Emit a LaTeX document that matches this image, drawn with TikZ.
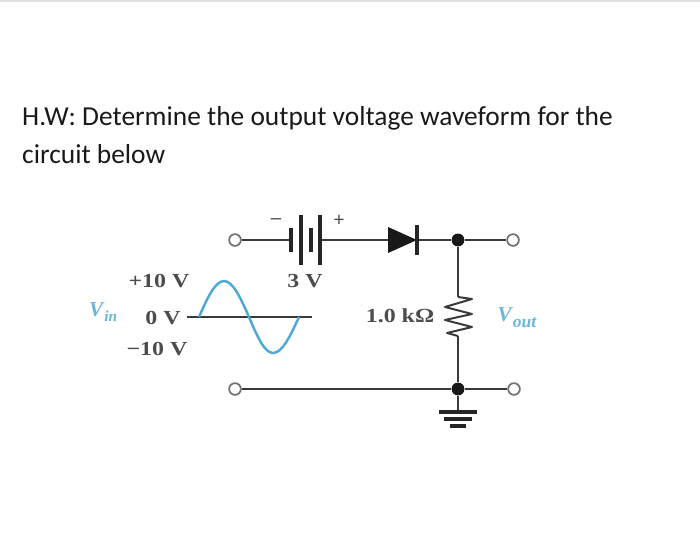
\documentclass[tikz,border=0pt]{standalone}
\usepackage{fontspec}
\setmainfont{Liberation Serif}
\newfontfamily\headfont{Carlito}
\newfontfamily\valfont[FakeStretch=1.2]{Liberation Serif}
\usetikzlibrary{positioning}
\definecolor{wavecol}{HTML}{4FA9D6}
\definecolor{wirecol}{HTML}{3A3A3A}
\tikzstyle{wire} = [draw=wirecol, line width=1.3pt]
\tikzstyle{plate} = [draw=black!85, line width=2.8pt]
\tikzstyle{terminal} = [circle, draw=black!55, fill=white, line width=1.5pt, minimum size=10pt, inner sep=0pt]
\tikzstyle{dot} = [circle, fill=black!90, minimum size=11pt, inner sep=0pt]
\tikzstyle{val} = [text=black!70, font=\valfont\fontsize{17}{19}\selectfont\bfseries, inner sep=0pt]
\tikzstyle{sig} = [text=wavecol!85, font=\fontsize{18}{20}\selectfont\bfseries\itshape, inner sep=0pt]
\tikzstyle{headline} = [anchor=base west, inner sep=0pt, text=black!90, font=\headfont\fontsize{23.4}{26}\selectfont]

\begin{document}
\begin{tikzpicture}[x=0.03cm,y=-0.03cm]
  \useasboundingbox (0,0) rectangle (700,557);
  \fill[black!12] (0,0) rectangle (700,2);

  \node[headline] (line1) at (22,125) {H.W: Determine the output voltage waveform for the};
  \node[headline] (line2) at (22,163) {circuit below};

  \node[terminal] (inA) at (235,240) {};
  \node[terminal] (inB) at (235,389) {};
  \node[terminal] (outA) at (513,240) {};
  \node[terminal] (outB) at (514,389) {};
  \node[dot] (top) at (458,240) {};
  \node[dot] (bot) at (458,389) {};

  \coordinate (batL) at (291,240);
  \coordinate (batR) at (320,240);
  \coordinate (diodeL) at (388,240);
  \coordinate (diodeR) at (417,240);
  \coordinate (resT) at (458,297);
  \coordinate (resB) at (458,336);
  \coordinate (gnd) at (458,412);
  \coordinate (axisL) at (187,317);
  \coordinate (axisR) at (312,317);

  \draw[wire] (inA) -- (batL);
  \draw[wire] (batR) -- (diodeL);
  \draw[wire] (diodeR) -- (top);
  \draw[wire] (top) -- (outA);
  \draw[wire] (inB) -- (bot);
  \draw[wire] (bot) -- (outB);
  \draw[wire] (top) -- (resT);
  \draw[wire] (resB) -- (bot);
  \draw[wire] (bot) -- (gnd);
  \draw[wire] (axisL) -- (axisR);

  \foreach \x/\h in {291/12, 301/25, 311/12, 320/25}
    \draw[plate] (\x,240-\h) -- (\x,240+\h);

  \fill[black!90] (diodeL) ++(0,-13) -- (diodeR) -- (388,253) -- cycle;
  \draw[plate] (417,225) -- (417,255);

  \draw[wire, line width=1.7pt, line join=round] (resT) -- (472,299) -- (445,307) -- (472,314)
      -- (445,320) -- (472,327) -- (447,333) -- (resB);

  \foreach \y/\w in {412/19, 419/14, 426/8}
    \draw[plate] (458-\w,\y) -- (458+\w,\y);

  \draw[wavecol, line width=2.1pt] (199,317) sin (224,281) cos (249,317) sin (273,353) cos (299,317);

  \node[val] (plus10) at (159,281) {+10 V};
  \node[val] (zero) at (163,318) {0 V};
  \node[val] (minus10) at (157,349) {\textminus10 V};
  \node[val] (batval) at (305,281) {3 V};
  \node[val] (resval) at (400,316) {1.0 kΩ};
  \node[val, font=\valfont\fontsize{16}{19}\selectfont\bfseries] (batminus) at (276,222) {\textminus};
  \node[val, font=\fontsize{17}{19}\selectfont\bfseries] (batplus) at (339,221) {+};
  \node[sig] (vin) at (103,312) {V\kern1pt\raisebox{-4pt}{\fontsize{13}{13}\selectfont in}};
  \node[sig] (vout) at (517,318) {V\kern1pt\raisebox{-5pt}{\fontsize{15}{15}\selectfont out}};
\end{tikzpicture}
\end{document}
